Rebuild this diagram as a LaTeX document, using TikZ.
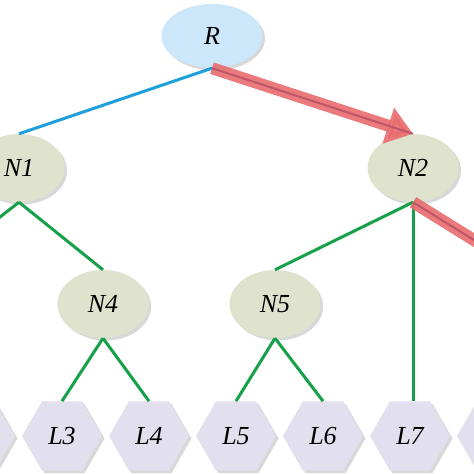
\documentclass[tikz,border=0pt]{standalone}
\usepackage{fontspec}
\setmainfont{Liberation Serif}
\usetikzlibrary{shapes.geometric,shadows,arrows.meta}
\definecolor{rootfill}{RGB}{204,231,250}
\definecolor{nodefill}{RGB}{223,227,205}
\definecolor{leaffill}{RGB}{226,224,238}
\definecolor{bluelink}{RGB}{30,160,220}
\definecolor{greenlink}{RGB}{22,160,72}
\definecolor{redbar}{RGB}{232,108,110}
\definecolor{redcore}{RGB}{180,78,100}
\tikzset{
  shad/.style={drop shadow={shadow xshift=2.5pt,shadow yshift=-2.5pt,fill=black!25,opacity=0.6}},
  labelfont/.style={font=\fontsize{26}{30}\selectfont\itshape},
  rootnode/.style={ellipse,minimum width=101pt,minimum height=64pt,inner sep=0pt,fill=rootfill,shad,labelfont},
  innernode/.style={ellipse,minimum width=91pt,minimum height=68pt,inner sep=0pt,fill=nodefill,shad,labelfont},
  leafnode/.style={regular polygon,regular polygon sides=6,minimum size=80pt,inner sep=0pt,fill=leaffill,shad,labelfont},
  bluebranch/.style={draw=bluelink,line width=3pt},
  greenbranch/.style={draw=greenlink,line width=3pt},
  redshaft/.style={draw=redbar,line width=12pt,opacity=0.9},
  redarrow/.style={redshaft,-{Triangle[width=36pt,length=26pt]}},
  redline/.style={draw=redcore,line width=2pt,opacity=0.8}
}
\begin{document}
\begin{tikzpicture}[x=1pt,y=-1pt]
\clip (0,0) rectangle (474,474);
\fill[white] (0,0) rectangle (474,474);
\node[rootnode] (R) at (212,36) {R};
\node[innernode] (N1) at (19,168) {N1};
\node[innernode] (N2) at (413,168) {N2};
\node[innernode] (N4) at (103,304) {N4};
\node[innernode] (N5) at (275,304) {N5};
\node[leafnode] (L2) at (-25,436) {};
\node[leafnode] (L3) at (62,436) {L3};
\node[leafnode] (L4) at (149,436) {L4};
\node[leafnode] (L5) at (236,436) {L5};
\node[leafnode] (L6) at (323,436) {L6};
\node[leafnode] (L7) at (410,436) {L7};
\node[leafnode] (L8) at (497,436) {};
\coordinate (n3top) at (-68,270);
\coordinate (n6dir) at (535,278);
\draw[bluebranch] (R.south) -- (N1.north);
\draw[greenbranch] (N1.south) -- (n3top);
\draw[greenbranch] (N1.south) -- (N4.north);
\draw[greenbranch] (N2.south) -- (N5.north);
\draw[greenbranch] (N2.south) -- (N2.south |- L7.north);
\draw[greenbranch] (N4.south) -- (L3.north);
\draw[greenbranch] (N4.south) -- (L4.north);
\draw[greenbranch] (N5.south) -- (L5.north);
\draw[greenbranch] (N5.south) -- (L6.north);
\draw[redarrow] (R.south) -- (N2.north);
\draw[redline] (R.south) -- (N2.north);
\draw[redshaft] (N2.south) -- (n6dir);
\draw[redline] (N2.south) -- (n6dir);
\end{tikzpicture}
\end{document}
